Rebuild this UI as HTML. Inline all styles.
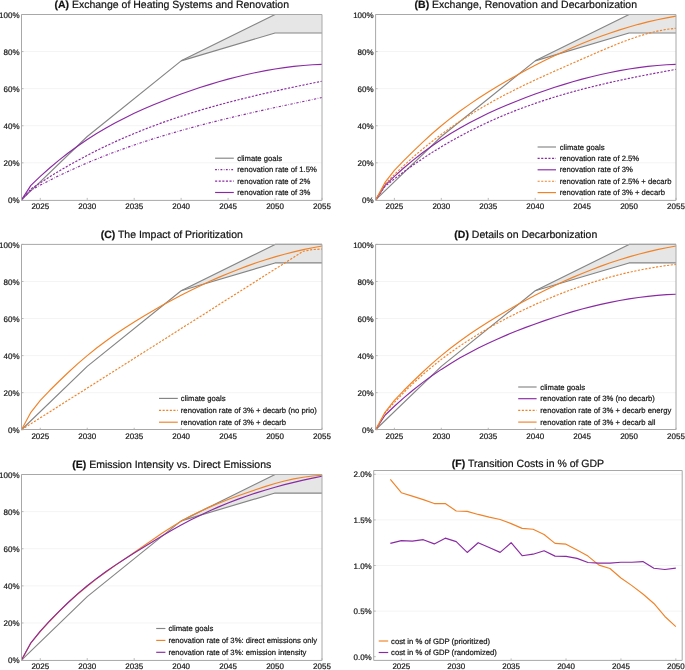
<!DOCTYPE html>
<html><head><meta charset="utf-8"><style>html,body{margin:0;padding:0;background:#fff;}svg{display:block;}</style></head>
<body>
<svg width="685" height="670" viewBox="0 0 685 670" font-family="Liberation Sans, Arial, sans-serif" text-rendering="geometricPrecision">
<style>text{stroke:#141414;stroke-width:0.2px;}</style>
<rect width="685" height="670" fill="#fff"/>
<line x1="21.5" y1="162.82" x2="322" y2="162.82" stroke="#f4f4f4" stroke-width="1"/>
<line x1="21.5" y1="125.74" x2="322" y2="125.74" stroke="#f4f4f4" stroke-width="1"/>
<line x1="21.5" y1="88.66" x2="322" y2="88.66" stroke="#f4f4f4" stroke-width="1"/>
<line x1="21.5" y1="51.58" x2="322" y2="51.58" stroke="#f4f4f4" stroke-width="1"/>
<polygon points="181.14,60.85 275.05,14.5 322,14.5 322,33.04 275.05,33.04" fill="#e5e6e5"/>
<polyline points="21.5,199.9 87.23,136.49 181.14,60.85 275.05,14.5 322,14.5" fill="none" stroke="#858585" stroke-width="1.15" stroke-linejoin="round"/>
<polyline points="181.14,60.85 275.05,33.04 322,33.04" fill="none" stroke="#858585" stroke-width="1.15" stroke-linejoin="round"/>
<polyline points="21.5,199.9 30.89,190.15 40.28,185.1 49.67,180.27 59.06,175.64 68.45,171.21 77.84,166.97 87.23,162.91 96.62,159.03 106.02,155.31 115.41,151.75 124.8,148.33 134.19,145.06 143.58,141.92 152.97,138.9 162.36,136 171.75,133.2 181.14,130.5 190.53,127.9 199.92,125.37 209.31,122.93 218.7,120.56 228.09,118.25 237.48,116.01 246.88,113.82 256.27,111.68 265.66,109.58 275.05,107.51 284.44,105.48 293.83,103.47 303.22,101.48 312.61,99.49 322,97.52" fill="none" stroke="#8a2aa3" stroke-width="1.15" stroke-dasharray="2.3,1.6,0.5,1.6" stroke-linejoin="round"/>
<polyline points="21.5,199.9 30.89,189.05 40.28,182.8 49.67,176.81 59.06,171.08 68.45,165.59 77.84,160.35 87.23,155.34 96.62,150.56 106.02,145.99 115.41,141.63 124.8,137.46 134.19,133.49 143.58,129.7 152.97,126.09 162.36,122.64 171.75,119.35 181.14,116.2 190.53,113.2 199.92,110.33 209.31,107.58 218.7,104.95 228.09,102.43 237.48,100 246.88,97.66 256.27,95.41 265.66,93.23 275.05,91.11 284.44,89.05 293.83,87.04 303.22,85.07 312.61,83.13 322,81.21" fill="none" stroke="#8a2aa3" stroke-width="1.15" stroke-dasharray="2.2,1.5" stroke-linejoin="round"/>
<polyline points="21.5,199.9 30.89,185.37 40.28,176.38 49.67,167.97 59.06,160.11 68.45,152.77 77.84,145.92 87.23,139.52 96.62,133.55 106.02,127.98 115.41,122.77 124.8,117.9 134.19,113.34 143.58,109.05 152.97,105.01 162.36,101.18 171.75,97.53 181.14,94.04 190.53,90.72 199.92,87.56 209.31,84.58 218.7,81.77 228.09,79.15 237.48,76.72 246.88,74.49 256.27,72.45 265.66,70.63 275.05,69.01 284.44,67.61 293.83,66.44 303.22,65.5 312.61,64.79 322,64.32" fill="none" stroke="#8a2aa3" stroke-width="1.15" stroke-linejoin="round"/>
<path d="M21.5,14.5H322V200.4H21.5Z" fill="none" stroke="#a8a8a8" stroke-width="1"/>
<line x1="40.28" y1="199.9" x2="40.28" y2="197.9" stroke="#a8a8a8" stroke-width="0.8"/>
<text x="40.28" y="208.7" font-size="8.0" text-anchor="middle" fill="#141414">2025</text>
<line x1="87.23" y1="199.9" x2="87.23" y2="197.9" stroke="#a8a8a8" stroke-width="0.8"/>
<text x="87.23" y="208.7" font-size="8.0" text-anchor="middle" fill="#141414">2030</text>
<line x1="134.19" y1="199.9" x2="134.19" y2="197.9" stroke="#a8a8a8" stroke-width="0.8"/>
<text x="134.19" y="208.7" font-size="8.0" text-anchor="middle" fill="#141414">2035</text>
<line x1="181.14" y1="199.9" x2="181.14" y2="197.9" stroke="#a8a8a8" stroke-width="0.8"/>
<text x="181.14" y="208.7" font-size="8.0" text-anchor="middle" fill="#141414">2040</text>
<line x1="228.09" y1="199.9" x2="228.09" y2="197.9" stroke="#a8a8a8" stroke-width="0.8"/>
<text x="228.09" y="208.7" font-size="8.0" text-anchor="middle" fill="#141414">2045</text>
<line x1="275.05" y1="199.9" x2="275.05" y2="197.9" stroke="#a8a8a8" stroke-width="0.8"/>
<text x="275.05" y="208.7" font-size="8.0" text-anchor="middle" fill="#141414">2050</text>
<line x1="322" y1="199.9" x2="322" y2="197.9" stroke="#a8a8a8" stroke-width="0.8"/>
<text x="322" y="208.7" font-size="8.0" text-anchor="middle" fill="#141414">2055</text>
<line x1="21.5" y1="199.9" x2="23.5" y2="199.9" stroke="#a8a8a8" stroke-width="0.8"/>
<text x="19.5" y="203" font-size="8.0" text-anchor="end" fill="#141414">0%</text>
<line x1="21.5" y1="162.82" x2="23.5" y2="162.82" stroke="#a8a8a8" stroke-width="0.8"/>
<text x="19.5" y="165.92" font-size="8.0" text-anchor="end" fill="#141414">20%</text>
<line x1="21.5" y1="125.74" x2="23.5" y2="125.74" stroke="#a8a8a8" stroke-width="0.8"/>
<text x="19.5" y="128.84" font-size="8.0" text-anchor="end" fill="#141414">40%</text>
<line x1="21.5" y1="88.66" x2="23.5" y2="88.66" stroke="#a8a8a8" stroke-width="0.8"/>
<text x="19.5" y="91.76" font-size="8.0" text-anchor="end" fill="#141414">60%</text>
<line x1="21.5" y1="51.58" x2="23.5" y2="51.58" stroke="#a8a8a8" stroke-width="0.8"/>
<text x="19.5" y="54.68" font-size="8.0" text-anchor="end" fill="#141414">80%</text>
<line x1="21.5" y1="14.5" x2="23.5" y2="14.5" stroke="#a8a8a8" stroke-width="0.8"/>
<text x="19.5" y="17.6" font-size="8.0" text-anchor="end" fill="#141414">100%</text>
<text x="171.75" y="7.7" font-size="10.5" text-anchor="middle" fill="#111"><tspan font-weight="bold">(A)</tspan> Exchange of Heating Systems and Renovation</text>
<line x1="215.1" y1="158.2" x2="233.8" y2="158.2" stroke="#858585" stroke-width="1.15"/>
<text x="237.3" y="160.8" font-size="7.7" text-anchor="start" fill="#141414">climate goals</text>
<line x1="215.1" y1="169.63" x2="233.8" y2="169.63" stroke="#8a2aa3" stroke-width="1.15" stroke-dasharray="1.8,1.5,0.6,1.5"/>
<text x="237.3" y="172.23" font-size="7.7" text-anchor="start" fill="#141414">renovation rate of 1.5%</text>
<line x1="215.1" y1="181.06" x2="233.8" y2="181.06" stroke="#8a2aa3" stroke-width="1.15" stroke-dasharray="2.1,1.5"/>
<text x="237.3" y="183.66" font-size="7.7" text-anchor="start" fill="#141414">renovation rate of 2%</text>
<line x1="215.1" y1="192.49" x2="233.8" y2="192.49" stroke="#8a2aa3" stroke-width="1.15"/>
<text x="237.3" y="195.09" font-size="7.7" text-anchor="start" fill="#141414">renovation rate of 3%</text>
<line x1="375.6" y1="162.82" x2="676" y2="162.82" stroke="#f4f4f4" stroke-width="1"/>
<line x1="375.6" y1="125.74" x2="676" y2="125.74" stroke="#f4f4f4" stroke-width="1"/>
<line x1="375.6" y1="88.66" x2="676" y2="88.66" stroke="#f4f4f4" stroke-width="1"/>
<line x1="375.6" y1="51.58" x2="676" y2="51.58" stroke="#f4f4f4" stroke-width="1"/>
<polygon points="535.19,60.85 629.06,14.5 676,14.5 676,33.04 629.06,33.04" fill="#e5e6e5"/>
<polyline points="375.6,199.9 441.31,136.49 535.19,60.85 629.06,14.5 676,14.5" fill="none" stroke="#858585" stroke-width="1.15" stroke-linejoin="round"/>
<polyline points="535.19,60.85 629.06,33.04 676,33.04" fill="none" stroke="#858585" stroke-width="1.15" stroke-linejoin="round"/>
<polyline points="375.6,199.9 384.99,186.35 394.38,178.92 403.76,171.85 413.15,165.11 422.54,158.7 431.93,152.61 441.31,146.83 450.7,141.34 460.09,136.13 469.48,131.2 478.86,126.53 488.25,122.11 497.64,117.92 507.02,113.97 516.41,110.24 525.8,106.71 535.19,103.37 544.58,100.23 553.96,97.25 563.35,94.44 572.74,91.78 582.12,89.26 591.51,86.87 600.9,84.59 610.29,82.43 619.67,80.36 629.06,78.38 638.45,76.47 647.84,74.62 657.23,72.83 666.61,71.08 676,69.36" fill="none" stroke="#8a2aa3" stroke-width="1.15" stroke-dasharray="2.2,1.5" stroke-linejoin="round"/>
<polyline points="375.6,199.9 384.99,185.37 394.38,176.38 403.76,167.97 413.15,160.11 422.54,152.77 431.93,145.92 441.31,139.52 450.7,133.55 460.09,127.98 469.48,122.77 478.86,117.9 488.25,113.34 497.64,109.05 507.02,105.01 516.41,101.18 525.8,97.53 535.19,94.04 544.58,90.72 553.96,87.56 563.35,84.58 572.74,81.77 582.12,79.15 591.51,76.72 600.9,74.49 610.29,72.45 619.67,70.63 629.06,69.01 638.45,67.61 647.84,66.44 657.23,65.5 666.61,64.79 676,64.32" fill="none" stroke="#8a2aa3" stroke-width="1.15" stroke-linejoin="round"/>
<polyline points="375.6,199.9 384.99,184.13 394.38,174.61 403.76,165.61 413.15,157.11 422.54,149.09 431.93,141.51 441.31,134.36 450.7,127.6 460.09,121.2 469.48,115.14 478.86,109.4 488.25,103.94 497.64,98.74 507.02,93.77 516.41,89 525.8,84.41 535.19,79.97 544.58,75.65 553.96,71.42 563.35,67.27 572.74,63.15 582.12,59.05 591.51,54.94 600.9,50.85 610.29,46.87 619.67,43.07 629.06,39.52 638.45,36.29 647.84,33.48 657.23,31.14 666.61,29.36 676,28.21" fill="none" stroke="#f08228" stroke-width="1.15" stroke-dasharray="2.2,1.5" stroke-linejoin="round"/>
<polyline points="375.6,199.9 384.99,182.45 394.38,170.42 403.76,160.67 413.15,151.4 422.54,142.38 431.93,133.78 441.31,125.72 450.7,118.17 460.09,111.08 469.48,104.39 478.86,98.07 488.25,92.06 497.64,86.32 507.02,80.81 516.41,75.47 525.8,70.32 535.19,65.36 544.58,60.59 553.96,56.02 563.35,51.65 572.74,47.48 582.12,43.52 591.51,39.77 600.9,36.24 610.29,32.92 619.67,29.83 629.06,26.96 638.45,24.32 647.84,21.92 657.23,19.76 666.61,17.83 676,16.15" fill="none" stroke="#f08228" stroke-width="1.15" stroke-linejoin="round"/>
<path d="M375.6,14.5H676V200.4H375.6Z" fill="none" stroke="#a8a8a8" stroke-width="1"/>
<line x1="394.38" y1="199.9" x2="394.38" y2="197.9" stroke="#a8a8a8" stroke-width="0.8"/>
<text x="394.38" y="208.7" font-size="8.0" text-anchor="middle" fill="#141414">2025</text>
<line x1="441.31" y1="199.9" x2="441.31" y2="197.9" stroke="#a8a8a8" stroke-width="0.8"/>
<text x="441.31" y="208.7" font-size="8.0" text-anchor="middle" fill="#141414">2030</text>
<line x1="488.25" y1="199.9" x2="488.25" y2="197.9" stroke="#a8a8a8" stroke-width="0.8"/>
<text x="488.25" y="208.7" font-size="8.0" text-anchor="middle" fill="#141414">2035</text>
<line x1="535.19" y1="199.9" x2="535.19" y2="197.9" stroke="#a8a8a8" stroke-width="0.8"/>
<text x="535.19" y="208.7" font-size="8.0" text-anchor="middle" fill="#141414">2040</text>
<line x1="582.12" y1="199.9" x2="582.12" y2="197.9" stroke="#a8a8a8" stroke-width="0.8"/>
<text x="582.12" y="208.7" font-size="8.0" text-anchor="middle" fill="#141414">2045</text>
<line x1="629.06" y1="199.9" x2="629.06" y2="197.9" stroke="#a8a8a8" stroke-width="0.8"/>
<text x="629.06" y="208.7" font-size="8.0" text-anchor="middle" fill="#141414">2050</text>
<line x1="676" y1="199.9" x2="676" y2="197.9" stroke="#a8a8a8" stroke-width="0.8"/>
<text x="676" y="208.7" font-size="8.0" text-anchor="middle" fill="#141414">2055</text>
<line x1="375.6" y1="199.9" x2="377.6" y2="199.9" stroke="#a8a8a8" stroke-width="0.8"/>
<text x="373.6" y="203" font-size="8.0" text-anchor="end" fill="#141414">0%</text>
<line x1="375.6" y1="162.82" x2="377.6" y2="162.82" stroke="#a8a8a8" stroke-width="0.8"/>
<text x="373.6" y="165.92" font-size="8.0" text-anchor="end" fill="#141414">20%</text>
<line x1="375.6" y1="125.74" x2="377.6" y2="125.74" stroke="#a8a8a8" stroke-width="0.8"/>
<text x="373.6" y="128.84" font-size="8.0" text-anchor="end" fill="#141414">40%</text>
<line x1="375.6" y1="88.66" x2="377.6" y2="88.66" stroke="#a8a8a8" stroke-width="0.8"/>
<text x="373.6" y="91.76" font-size="8.0" text-anchor="end" fill="#141414">60%</text>
<line x1="375.6" y1="51.58" x2="377.6" y2="51.58" stroke="#a8a8a8" stroke-width="0.8"/>
<text x="373.6" y="54.68" font-size="8.0" text-anchor="end" fill="#141414">80%</text>
<line x1="375.6" y1="14.5" x2="377.6" y2="14.5" stroke="#a8a8a8" stroke-width="0.8"/>
<text x="373.6" y="17.6" font-size="8.0" text-anchor="end" fill="#141414">100%</text>
<text x="525.8" y="7.7" font-size="10.5" text-anchor="middle" fill="#111"><tspan font-weight="bold">(B)</tspan> Exchange, Renovation and Decarbonization</text>
<line x1="537.6" y1="147" x2="556" y2="147" stroke="#858585" stroke-width="1.15"/>
<text x="559.7" y="149.6" font-size="7.7" text-anchor="start" fill="#141414">climate goals</text>
<line x1="537.6" y1="158.4" x2="556" y2="158.4" stroke="#8a2aa3" stroke-width="1.15" stroke-dasharray="2.1,1.5"/>
<text x="559.7" y="161" font-size="7.7" text-anchor="start" fill="#141414">renovation rate of 2.5%</text>
<line x1="537.6" y1="169.8" x2="556" y2="169.8" stroke="#8a2aa3" stroke-width="1.15"/>
<text x="559.7" y="172.4" font-size="7.7" text-anchor="start" fill="#141414">renovation rate of 3%</text>
<line x1="537.6" y1="181.2" x2="556" y2="181.2" stroke="#f08228" stroke-width="1.15" stroke-dasharray="2.1,1.5"/>
<text x="559.7" y="183.8" font-size="7.7" text-anchor="start" fill="#141414">renovation rate of 2.5% + decarb</text>
<line x1="537.6" y1="192.6" x2="556" y2="192.6" stroke="#f08228" stroke-width="1.15"/>
<text x="559.7" y="195.2" font-size="7.7" text-anchor="start" fill="#141414">renovation rate of 3% + decarb</text>
<line x1="21.5" y1="392.68" x2="322" y2="392.68" stroke="#f4f4f4" stroke-width="1"/>
<line x1="21.5" y1="355.61" x2="322" y2="355.61" stroke="#f4f4f4" stroke-width="1"/>
<line x1="21.5" y1="318.54" x2="322" y2="318.54" stroke="#f4f4f4" stroke-width="1"/>
<line x1="21.5" y1="281.47" x2="322" y2="281.47" stroke="#f4f4f4" stroke-width="1"/>
<polygon points="181.14,290.74 275.05,244.4 322,244.4 322,262.94 275.05,262.94" fill="#e5e6e5"/>
<polyline points="21.5,429.75 87.23,366.36 181.14,290.74 275.05,244.4 322,244.4" fill="none" stroke="#858585" stroke-width="1.15" stroke-linejoin="round"/>
<polyline points="181.14,290.74 275.05,262.94 322,262.94" fill="none" stroke="#858585" stroke-width="1.15" stroke-linejoin="round"/>
<polyline points="21.5,429.75 30.89,423.8 40.28,417.85 49.67,411.9 59.06,405.95 68.45,400 77.84,394.05 87.23,388.1 96.62,382.15 106.02,376.2 115.41,370.25 124.8,364.3 134.19,358.35 143.58,352.4 152.97,346.45 162.36,340.5 171.75,334.55 181.14,328.6 190.53,322.65 199.92,316.71 209.31,310.76 218.7,304.81 228.09,298.86 237.48,292.91 246.88,286.96 256.27,281.01 265.66,275.06 275.05,269.11 284.44,263.16 293.83,257.21 303.22,251.26 312.61,249.59 322,249.03" fill="none" stroke="#f08228" stroke-width="1.15" stroke-dasharray="2.2,1.5" stroke-linejoin="round"/>
<polyline points="21.5,429.75 30.89,412.31 40.28,400.28 49.67,390.53 59.06,381.26 68.45,372.24 77.84,363.65 87.23,355.59 96.62,348.04 106.02,340.95 115.41,334.27 124.8,327.95 134.19,321.94 143.58,316.21 152.97,310.69 162.36,305.35 171.75,300.21 181.14,295.25 190.53,290.48 199.92,285.91 209.31,281.54 218.7,277.37 228.09,273.41 237.48,269.67 246.88,266.13 256.27,262.82 265.66,259.72 275.05,256.86 284.44,254.22 293.83,251.82 303.22,249.66 312.61,247.73 322,246.05" fill="none" stroke="#f08228" stroke-width="1.15" stroke-linejoin="round"/>
<path d="M21.5,244.4H322V429.5H21.5Z" fill="none" stroke="#a8a8a8" stroke-width="1"/>
<line x1="40.28" y1="429.75" x2="40.28" y2="427.75" stroke="#a8a8a8" stroke-width="0.8"/>
<text x="40.28" y="438.55" font-size="8.0" text-anchor="middle" fill="#141414">2025</text>
<line x1="87.23" y1="429.75" x2="87.23" y2="427.75" stroke="#a8a8a8" stroke-width="0.8"/>
<text x="87.23" y="438.55" font-size="8.0" text-anchor="middle" fill="#141414">2030</text>
<line x1="134.19" y1="429.75" x2="134.19" y2="427.75" stroke="#a8a8a8" stroke-width="0.8"/>
<text x="134.19" y="438.55" font-size="8.0" text-anchor="middle" fill="#141414">2035</text>
<line x1="181.14" y1="429.75" x2="181.14" y2="427.75" stroke="#a8a8a8" stroke-width="0.8"/>
<text x="181.14" y="438.55" font-size="8.0" text-anchor="middle" fill="#141414">2040</text>
<line x1="228.09" y1="429.75" x2="228.09" y2="427.75" stroke="#a8a8a8" stroke-width="0.8"/>
<text x="228.09" y="438.55" font-size="8.0" text-anchor="middle" fill="#141414">2045</text>
<line x1="275.05" y1="429.75" x2="275.05" y2="427.75" stroke="#a8a8a8" stroke-width="0.8"/>
<text x="275.05" y="438.55" font-size="8.0" text-anchor="middle" fill="#141414">2050</text>
<line x1="322" y1="429.75" x2="322" y2="427.75" stroke="#a8a8a8" stroke-width="0.8"/>
<text x="322" y="438.55" font-size="8.0" text-anchor="middle" fill="#141414">2055</text>
<line x1="21.5" y1="429.75" x2="23.5" y2="429.75" stroke="#a8a8a8" stroke-width="0.8"/>
<text x="19.5" y="432.85" font-size="8.0" text-anchor="end" fill="#141414">0%</text>
<line x1="21.5" y1="392.68" x2="23.5" y2="392.68" stroke="#a8a8a8" stroke-width="0.8"/>
<text x="19.5" y="395.78" font-size="8.0" text-anchor="end" fill="#141414">20%</text>
<line x1="21.5" y1="355.61" x2="23.5" y2="355.61" stroke="#a8a8a8" stroke-width="0.8"/>
<text x="19.5" y="358.71" font-size="8.0" text-anchor="end" fill="#141414">40%</text>
<line x1="21.5" y1="318.54" x2="23.5" y2="318.54" stroke="#a8a8a8" stroke-width="0.8"/>
<text x="19.5" y="321.64" font-size="8.0" text-anchor="end" fill="#141414">60%</text>
<line x1="21.5" y1="281.47" x2="23.5" y2="281.47" stroke="#a8a8a8" stroke-width="0.8"/>
<text x="19.5" y="284.57" font-size="8.0" text-anchor="end" fill="#141414">80%</text>
<line x1="21.5" y1="244.4" x2="23.5" y2="244.4" stroke="#a8a8a8" stroke-width="0.8"/>
<text x="19.5" y="247.5" font-size="8.0" text-anchor="end" fill="#141414">100%</text>
<text x="171.75" y="237.6" font-size="10.5" text-anchor="middle" fill="#111"><tspan font-weight="bold">(C)</tspan> The Impact of Prioritization</text>
<line x1="159" y1="398.4" x2="177.8" y2="398.4" stroke="#858585" stroke-width="1.15"/>
<text x="180.8" y="401" font-size="7.7" text-anchor="start" fill="#141414">climate goals</text>
<line x1="159" y1="410.3" x2="177.8" y2="410.3" stroke="#f08228" stroke-width="1.15" stroke-dasharray="2.1,1.5"/>
<text x="180.8" y="412.9" font-size="7.7" text-anchor="start" fill="#141414">renovation rate of 3% + decarb (no prio)</text>
<line x1="159" y1="422.2" x2="177.8" y2="422.2" stroke="#f08228" stroke-width="1.15"/>
<text x="180.8" y="424.8" font-size="7.7" text-anchor="start" fill="#141414">renovation rate of 3% + decarb</text>
<line x1="375.6" y1="392.68" x2="676" y2="392.68" stroke="#f4f4f4" stroke-width="1"/>
<line x1="375.6" y1="355.61" x2="676" y2="355.61" stroke="#f4f4f4" stroke-width="1"/>
<line x1="375.6" y1="318.54" x2="676" y2="318.54" stroke="#f4f4f4" stroke-width="1"/>
<line x1="375.6" y1="281.47" x2="676" y2="281.47" stroke="#f4f4f4" stroke-width="1"/>
<polygon points="535.19,290.74 629.06,244.4 676,244.4 676,262.94 629.06,262.94" fill="#e5e6e5"/>
<polyline points="375.6,429.75 441.31,366.36 535.19,290.74 629.06,244.4 676,244.4" fill="none" stroke="#858585" stroke-width="1.15" stroke-linejoin="round"/>
<polyline points="535.19,290.74 629.06,262.94 676,262.94" fill="none" stroke="#858585" stroke-width="1.15" stroke-linejoin="round"/>
<polyline points="375.6,429.75 384.99,415.22 394.38,406.24 403.76,397.83 413.15,389.97 422.54,382.63 431.93,375.78 441.31,369.39 450.7,363.42 460.09,357.85 469.48,352.64 478.86,347.78 488.25,343.21 497.64,338.93 507.02,334.88 516.41,331.05 525.8,327.41 535.19,323.92 544.58,320.6 553.96,317.44 563.35,314.46 572.74,311.66 582.12,309.04 591.51,306.61 600.9,304.37 610.29,302.34 619.67,300.51 629.06,298.9 638.45,297.5 647.84,296.33 657.23,295.38 666.61,294.68 676,294.21" fill="none" stroke="#8a2aa3" stroke-width="1.15" stroke-linejoin="round"/>
<polyline points="375.6,429.75 384.99,413 394.38,402.4 403.76,392.54 413.15,383.36 422.54,374.82 431.93,366.85 441.31,359.41 450.7,352.43 460.09,345.88 469.48,339.69 478.86,333.84 488.25,328.3 497.64,323.06 507.02,318.08 516.41,313.33 525.8,308.81 535.19,304.47 544.58,300.34 553.96,296.4 563.35,292.66 572.74,289.12 582.12,285.79 591.51,282.67 600.9,279.76 610.29,277.06 619.67,274.58 629.06,272.32 638.45,270.28 647.84,268.47 657.23,266.89 666.61,265.53 676,264.41" fill="none" stroke="#f08228" stroke-width="1.15" stroke-dasharray="2.2,1.5" stroke-linejoin="round"/>
<polyline points="375.6,429.75 384.99,412.31 394.38,400.28 403.76,390.53 413.15,381.26 422.54,372.24 431.93,363.65 441.31,355.59 450.7,348.04 460.09,340.95 469.48,334.27 478.86,327.95 488.25,321.94 497.64,316.21 507.02,310.69 516.41,305.35 525.8,300.21 535.19,295.25 544.58,290.48 553.96,285.91 563.35,281.54 572.74,277.37 582.12,273.41 591.51,269.67 600.9,266.13 610.29,262.82 619.67,259.72 629.06,256.86 638.45,254.22 647.84,251.82 657.23,249.66 666.61,247.73 676,246.05" fill="none" stroke="#f08228" stroke-width="1.15" stroke-linejoin="round"/>
<path d="M375.6,244.4H676V429.5H375.6Z" fill="none" stroke="#a8a8a8" stroke-width="1"/>
<line x1="394.38" y1="429.75" x2="394.38" y2="427.75" stroke="#a8a8a8" stroke-width="0.8"/>
<text x="394.38" y="438.55" font-size="8.0" text-anchor="middle" fill="#141414">2025</text>
<line x1="441.31" y1="429.75" x2="441.31" y2="427.75" stroke="#a8a8a8" stroke-width="0.8"/>
<text x="441.31" y="438.55" font-size="8.0" text-anchor="middle" fill="#141414">2030</text>
<line x1="488.25" y1="429.75" x2="488.25" y2="427.75" stroke="#a8a8a8" stroke-width="0.8"/>
<text x="488.25" y="438.55" font-size="8.0" text-anchor="middle" fill="#141414">2035</text>
<line x1="535.19" y1="429.75" x2="535.19" y2="427.75" stroke="#a8a8a8" stroke-width="0.8"/>
<text x="535.19" y="438.55" font-size="8.0" text-anchor="middle" fill="#141414">2040</text>
<line x1="582.12" y1="429.75" x2="582.12" y2="427.75" stroke="#a8a8a8" stroke-width="0.8"/>
<text x="582.12" y="438.55" font-size="8.0" text-anchor="middle" fill="#141414">2045</text>
<line x1="629.06" y1="429.75" x2="629.06" y2="427.75" stroke="#a8a8a8" stroke-width="0.8"/>
<text x="629.06" y="438.55" font-size="8.0" text-anchor="middle" fill="#141414">2050</text>
<line x1="676" y1="429.75" x2="676" y2="427.75" stroke="#a8a8a8" stroke-width="0.8"/>
<text x="676" y="438.55" font-size="8.0" text-anchor="middle" fill="#141414">2055</text>
<line x1="375.6" y1="429.75" x2="377.6" y2="429.75" stroke="#a8a8a8" stroke-width="0.8"/>
<text x="373.6" y="432.85" font-size="8.0" text-anchor="end" fill="#141414">0%</text>
<line x1="375.6" y1="392.68" x2="377.6" y2="392.68" stroke="#a8a8a8" stroke-width="0.8"/>
<text x="373.6" y="395.78" font-size="8.0" text-anchor="end" fill="#141414">20%</text>
<line x1="375.6" y1="355.61" x2="377.6" y2="355.61" stroke="#a8a8a8" stroke-width="0.8"/>
<text x="373.6" y="358.71" font-size="8.0" text-anchor="end" fill="#141414">40%</text>
<line x1="375.6" y1="318.54" x2="377.6" y2="318.54" stroke="#a8a8a8" stroke-width="0.8"/>
<text x="373.6" y="321.64" font-size="8.0" text-anchor="end" fill="#141414">60%</text>
<line x1="375.6" y1="281.47" x2="377.6" y2="281.47" stroke="#a8a8a8" stroke-width="0.8"/>
<text x="373.6" y="284.57" font-size="8.0" text-anchor="end" fill="#141414">80%</text>
<line x1="375.6" y1="244.4" x2="377.6" y2="244.4" stroke="#a8a8a8" stroke-width="0.8"/>
<text x="373.6" y="247.5" font-size="8.0" text-anchor="end" fill="#141414">100%</text>
<text x="525.8" y="237.6" font-size="10.5" text-anchor="middle" fill="#111"><tspan font-weight="bold">(D)</tspan> Details on Decarbonization</text>
<line x1="518.2" y1="387" x2="536.6" y2="387" stroke="#858585" stroke-width="1.15"/>
<text x="540.3" y="389.6" font-size="7.7" text-anchor="start" fill="#141414">climate goals</text>
<line x1="518.2" y1="398.7" x2="536.6" y2="398.7" stroke="#8a2aa3" stroke-width="1.15"/>
<text x="540.3" y="401.3" font-size="7.7" text-anchor="start" fill="#141414">renovation rate of 3% (no decarb)</text>
<line x1="518.2" y1="410.4" x2="536.6" y2="410.4" stroke="#f08228" stroke-width="1.15" stroke-dasharray="2.1,1.5"/>
<text x="540.3" y="413" font-size="7.7" text-anchor="start" fill="#141414">renovation rate of 3% + decarb energy</text>
<line x1="518.2" y1="422.1" x2="536.6" y2="422.1" stroke="#f08228" stroke-width="1.15"/>
<text x="540.3" y="424.7" font-size="7.7" text-anchor="start" fill="#141414">renovation rate of 3% + decarb all</text>
<line x1="21.5" y1="622.98" x2="322" y2="622.98" stroke="#f4f4f4" stroke-width="1"/>
<line x1="21.5" y1="585.86" x2="322" y2="585.86" stroke="#f4f4f4" stroke-width="1"/>
<line x1="21.5" y1="548.74" x2="322" y2="548.74" stroke="#f4f4f4" stroke-width="1"/>
<line x1="21.5" y1="511.62" x2="322" y2="511.62" stroke="#f4f4f4" stroke-width="1"/>
<polygon points="181.14,520.9 275.05,474.5 322,474.5 322,493.06 275.05,493.06" fill="#e5e6e5"/>
<polyline points="21.5,660.1 87.23,596.62 181.14,520.9 275.05,474.5 322,474.5" fill="none" stroke="#858585" stroke-width="1.15" stroke-linejoin="round"/>
<polyline points="181.14,520.9 275.05,493.06 322,493.06" fill="none" stroke="#858585" stroke-width="1.15" stroke-linejoin="round"/>
<polyline points="21.5,660.1 30.89,643 40.28,631.66 49.67,621.23 59.06,611.5 68.45,602.44 77.84,594.01 87.23,586.19 96.62,578.88 106.02,571.96 115.41,565.33 124.8,558.86 134.19,552.46 143.58,546.01 152.97,539.5 162.36,533.1 171.75,526.97 181.14,521.27 190.53,516.1 199.92,511.41 209.31,507.14 218.7,503.21 228.09,499.55 237.48,496.07 246.88,492.71 256.27,489.44 265.66,486.34 275.05,483.5 284.44,480.99 293.83,478.91 303.22,477.25 312.61,476.03 322,475.25" fill="none" stroke="#f08228" stroke-width="1.15" stroke-linejoin="round"/>
<polyline points="21.5,660.1 30.89,642.83 40.28,631.07 49.67,620.97 59.06,611.39 68.45,602.23 77.84,593.65 87.23,585.73 96.62,578.41 106.02,571.58 115.41,565.14 124.8,559 134.19,553.05 143.58,547.2 152.97,541.41 162.36,535.75 171.75,530.26 181.14,525.02 190.53,520.07 199.92,515.4 209.31,511.01 218.7,506.89 228.09,503.03 237.48,499.41 246.88,496.03 256.27,492.87 265.66,489.93 275.05,487.2 284.44,484.67 293.83,482.32 303.22,480.15 312.61,478.15 322,476.3" fill="none" stroke="#8a2aa3" stroke-width="1.15" stroke-linejoin="round"/>
<path d="M21.5,474.5H322V660.45H21.5Z" fill="none" stroke="#a8a8a8" stroke-width="1"/>
<line x1="40.28" y1="660.1" x2="40.28" y2="658.1" stroke="#a8a8a8" stroke-width="0.8"/>
<text x="40.28" y="668.9" font-size="8.0" text-anchor="middle" fill="#141414">2025</text>
<line x1="87.23" y1="660.1" x2="87.23" y2="658.1" stroke="#a8a8a8" stroke-width="0.8"/>
<text x="87.23" y="668.9" font-size="8.0" text-anchor="middle" fill="#141414">2030</text>
<line x1="134.19" y1="660.1" x2="134.19" y2="658.1" stroke="#a8a8a8" stroke-width="0.8"/>
<text x="134.19" y="668.9" font-size="8.0" text-anchor="middle" fill="#141414">2035</text>
<line x1="181.14" y1="660.1" x2="181.14" y2="658.1" stroke="#a8a8a8" stroke-width="0.8"/>
<text x="181.14" y="668.9" font-size="8.0" text-anchor="middle" fill="#141414">2040</text>
<line x1="228.09" y1="660.1" x2="228.09" y2="658.1" stroke="#a8a8a8" stroke-width="0.8"/>
<text x="228.09" y="668.9" font-size="8.0" text-anchor="middle" fill="#141414">2045</text>
<line x1="275.05" y1="660.1" x2="275.05" y2="658.1" stroke="#a8a8a8" stroke-width="0.8"/>
<text x="275.05" y="668.9" font-size="8.0" text-anchor="middle" fill="#141414">2050</text>
<line x1="322" y1="660.1" x2="322" y2="658.1" stroke="#a8a8a8" stroke-width="0.8"/>
<text x="322" y="668.9" font-size="8.0" text-anchor="middle" fill="#141414">2055</text>
<line x1="21.5" y1="660.1" x2="23.5" y2="660.1" stroke="#a8a8a8" stroke-width="0.8"/>
<text x="19.5" y="663.2" font-size="8.0" text-anchor="end" fill="#141414">0%</text>
<line x1="21.5" y1="622.98" x2="23.5" y2="622.98" stroke="#a8a8a8" stroke-width="0.8"/>
<text x="19.5" y="626.08" font-size="8.0" text-anchor="end" fill="#141414">20%</text>
<line x1="21.5" y1="585.86" x2="23.5" y2="585.86" stroke="#a8a8a8" stroke-width="0.8"/>
<text x="19.5" y="588.96" font-size="8.0" text-anchor="end" fill="#141414">40%</text>
<line x1="21.5" y1="548.74" x2="23.5" y2="548.74" stroke="#a8a8a8" stroke-width="0.8"/>
<text x="19.5" y="551.84" font-size="8.0" text-anchor="end" fill="#141414">60%</text>
<line x1="21.5" y1="511.62" x2="23.5" y2="511.62" stroke="#a8a8a8" stroke-width="0.8"/>
<text x="19.5" y="514.72" font-size="8.0" text-anchor="end" fill="#141414">80%</text>
<line x1="21.5" y1="474.5" x2="23.5" y2="474.5" stroke="#a8a8a8" stroke-width="0.8"/>
<text x="19.5" y="477.6" font-size="8.0" text-anchor="end" fill="#141414">100%</text>
<text x="171.75" y="467.7" font-size="10.5" text-anchor="middle" fill="#111"><tspan font-weight="bold">(E)</tspan> Emission Intensity vs. Direct Emissions</text>
<line x1="156.2" y1="628.5" x2="165.4" y2="628.5" stroke="#858585" stroke-width="1.15"/>
<text x="168.4" y="631.1" font-size="7.7" text-anchor="start" fill="#141414">climate goals</text>
<line x1="156.2" y1="640.4" x2="165.4" y2="640.4" stroke="#f08228" stroke-width="1.15"/>
<text x="168.4" y="643" font-size="7.7" text-anchor="start" fill="#141414">renovation rate of 3%: direct emissions only</text>
<line x1="156.2" y1="652.3" x2="165.4" y2="652.3" stroke="#8a2aa3" stroke-width="1.15"/>
<text x="168.4" y="654.9" font-size="7.7" text-anchor="start" fill="#141414">renovation rate of 3%: emission intensity</text>
<line x1="373.7" y1="611.1" x2="682.2" y2="611.1" stroke="#f4f4f4" stroke-width="1"/>
<line x1="373.7" y1="565.5" x2="682.2" y2="565.5" stroke="#f4f4f4" stroke-width="1"/>
<line x1="373.7" y1="519.9" x2="682.2" y2="519.9" stroke="#f4f4f4" stroke-width="1"/>
<line x1="373.7" y1="474.3" x2="682.2" y2="474.3" stroke="#f4f4f4" stroke-width="1"/>
<polyline points="390.35,479.32 401.33,492.72 412.31,496.1 423.29,499.66 434.27,503.58 445.25,503.58 456.23,510.96 467.21,511.33 478.19,514.43 489.17,517.17 500.15,519.45 511.13,523.64 522.12,528.38 533.1,529.29 544.08,534.49 555.06,543.34 566.04,544.16 577.02,550.09 588,556.11 598.98,565.14 609.96,568.51 620.94,577.99 631.92,585.65 642.9,593.95 653.88,603.44 664.86,616.48 675.84,626.6" fill="none" stroke="#f08228" stroke-width="1.15" stroke-linejoin="round"/>
<polyline points="390.35,543.43 401.33,540.6 412.31,541.06 423.29,539.69 434.27,543.89 445.25,538.14 456.23,541.61 467.21,552.46 478.19,542.7 489.17,547.53 500.15,552.37 511.13,542.7 522.12,555.74 533.1,554.19 544.08,550.73 555.06,556.11 566.04,556.38 577.02,558.39 588,562.49 598.98,563.13 609.96,563.13 620.94,562.22 631.92,562.22 642.9,561.58 653.88,568.24 664.86,569.51 675.84,568.14" fill="none" stroke="#8a2aa3" stroke-width="1.15" stroke-linejoin="round"/>
<path d="M373.7,470.5H682.2V660.4H373.7Z" fill="none" stroke="#a8a8a8" stroke-width="1"/>
<line x1="401.33" y1="660.4" x2="401.33" y2="658.4" stroke="#a8a8a8" stroke-width="0.8"/>
<text x="401.33" y="669.2" font-size="8.0" text-anchor="middle" fill="#141414">2025</text>
<line x1="456.23" y1="660.4" x2="456.23" y2="658.4" stroke="#a8a8a8" stroke-width="0.8"/>
<text x="456.23" y="669.2" font-size="8.0" text-anchor="middle" fill="#141414">2030</text>
<line x1="511.13" y1="660.4" x2="511.13" y2="658.4" stroke="#a8a8a8" stroke-width="0.8"/>
<text x="511.13" y="669.2" font-size="8.0" text-anchor="middle" fill="#141414">2035</text>
<line x1="566.04" y1="660.4" x2="566.04" y2="658.4" stroke="#a8a8a8" stroke-width="0.8"/>
<text x="566.04" y="669.2" font-size="8.0" text-anchor="middle" fill="#141414">2040</text>
<line x1="620.94" y1="660.4" x2="620.94" y2="658.4" stroke="#a8a8a8" stroke-width="0.8"/>
<text x="620.94" y="669.2" font-size="8.0" text-anchor="middle" fill="#141414">2045</text>
<line x1="675.84" y1="660.4" x2="675.84" y2="658.4" stroke="#a8a8a8" stroke-width="0.8"/>
<text x="675.84" y="669.2" font-size="8.0" text-anchor="middle" fill="#141414">2050</text>
<line x1="373.7" y1="656.7" x2="375.7" y2="656.7" stroke="#a8a8a8" stroke-width="0.8"/>
<text x="371.7" y="659.8" font-size="8.0" text-anchor="end" fill="#141414">0.0%</text>
<line x1="373.7" y1="611.1" x2="375.7" y2="611.1" stroke="#a8a8a8" stroke-width="0.8"/>
<text x="371.7" y="614.2" font-size="8.0" text-anchor="end" fill="#141414">0.5%</text>
<line x1="373.7" y1="565.5" x2="375.7" y2="565.5" stroke="#a8a8a8" stroke-width="0.8"/>
<text x="371.7" y="568.6" font-size="8.0" text-anchor="end" fill="#141414">1.0%</text>
<line x1="373.7" y1="519.9" x2="375.7" y2="519.9" stroke="#a8a8a8" stroke-width="0.8"/>
<text x="371.7" y="523" font-size="8.0" text-anchor="end" fill="#141414">1.5%</text>
<line x1="373.7" y1="474.3" x2="375.7" y2="474.3" stroke="#a8a8a8" stroke-width="0.8"/>
<text x="371.7" y="477.4" font-size="8.0" text-anchor="end" fill="#141414">2.0%</text>
<text x="527.95" y="467.1" font-size="10.5" text-anchor="middle" fill="#111"><tspan font-weight="bold">(F)</tspan> Transition Costs in % of GDP</text>
<line x1="378.7" y1="641" x2="388.2" y2="641" stroke="#f08228" stroke-width="1.15"/>
<text x="391.1" y="643.6" font-size="7.7" text-anchor="start" fill="#141414">cost in % of GDP (prioritized)</text>
<line x1="378.7" y1="652.5" x2="388.2" y2="652.5" stroke="#8a2aa3" stroke-width="1.15"/>
<text x="391.1" y="655.1" font-size="7.7" text-anchor="start" fill="#141414">cost in % of GDP (randomized)</text>
</svg>
</body></html>
